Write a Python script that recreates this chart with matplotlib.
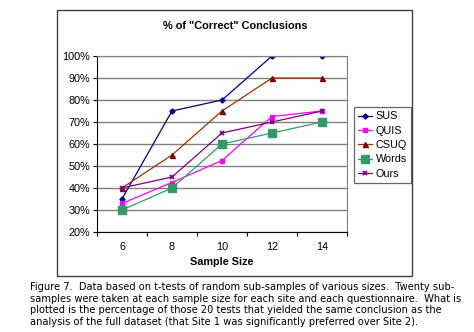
import matplotlib
matplotlib.use("Agg")
import matplotlib.pyplot as plt
from matplotlib.patches import Rectangle
from matplotlib.ticker import FixedLocator, FuncFormatter, NullFormatter

# Tamaños de muestra y porcentaje de conclusiones "correctas" por cuestionario
sample_sizes = ["6", "8", "10", "12", "14"]
sus = [0.35, 0.75, 0.80, 1.00, 1.00]
quis = [0.33, 0.425, 0.525, 0.725, 0.75]
csuq = [0.40, 0.55, 0.75, 0.90, 0.90]
words = [0.30, 0.40, 0.60, 0.65, 0.70]
ours = [0.40, 0.45, 0.65, 0.70, 0.75]

caption = ("Figure 7.  Data based on t-tests of random sub-samples of various sizes.  Twenty sub-\n"
           "samples were taken at each sample size for each site and each questionnaire.  What is\n"
           "plotted is the percentage of those 20 tests that yielded the same conclusion as the\n"
           "analysis of the full dataset (that Site 1 was significantly preferred over Site 2).")

W, H = 474, 332
fig = plt.figure(figsize=(W / 100, H / 100), dpi=100)
plt.rcParams['font.family'] = ['Liberation Sans', 'DejaVu Sans']

def fx(px):
    return px / W

def fy(py):
    return 1 - py / H

# Marco del grafico (estilo Excel)
fig.patches.append(Rectangle((fx(57), fy(276)), fx(412) - fx(57), fy(10) - fy(276),
                             transform=fig.transFigure, fill=False,
                             edgecolor="#404040", lw=1.0))

ax = fig.add_axes([fx(97), fy(232), fx(347) - fx(97), fy(56) - fy(232)])
x = list(range(len(sample_sizes)))

ax.plot(x, sus, color="#000080", marker="D", ms=2.6, lw=0.9, label="SUS")
ax.plot(x, quis, color="#FF00FF", marker="s", ms=3.0, lw=0.9, label="QUIS")
ax.plot(x, csuq, color="#993300", marker="^", ms=3.6, lw=0.9, label="CSUQ",
        markerfacecolor="#800000", markeredgecolor="#800000")
ax.plot(x, words, color="#339966", marker="s", ms=5.2, lw=0.9, label="Words")
ax.plot(x, ours, color="#800080", marker="x", ms=3.0, mew=1.3, lw=0.9, label="Ours")

ax.set_xlim(-0.5, 4.5)
ax.set_ylim(0.2, 1.0)
ax.xaxis.set_major_locator(FixedLocator([i - 0.5 for i in range(6)]))
ax.xaxis.set_major_formatter(NullFormatter())
ax.xaxis.set_minor_locator(FixedLocator(x))
ax.set_xticklabels(sample_sizes, minor=True)
ax.tick_params(axis="x", which="minor", length=0, pad=7, labelsize=7.8)
ax.tick_params(axis="x", which="major", length=3, width=0.8, color="black", direction="out")
ax.set_yticks([0.2 + 0.1 * i for i in range(9)])
ax.yaxis.set_major_formatter(FuncFormatter(lambda v, p: f"{round(v * 100)}%"))
ax.tick_params(axis="y", length=3, width=0.8, direction="out", labelsize=7.8, pad=2)

ax.grid(axis="y", color="#808080", lw=1.0)
ax.set_axisbelow(True)
for s in ["top", "right"]:
    ax.spines[s].set_color("#808080")
    ax.spines[s].set_linewidth(0.8)
for s in ["left", "bottom"]:
    ax.spines[s].set_color("black")
    ax.spines[s].set_linewidth(0.8)

leg = fig.legend(loc="upper left", bbox_to_anchor=(fx(354), fy(107)),
                 frameon=True, fancybox=False, fontsize=7.8, handlelength=1.3,
                 handletextpad=0.3, borderpad=0.4, labelspacing=0.4,
                 borderaxespad=0)
leg.get_frame().set_edgecolor("#404040")
leg.get_frame().set_linewidth(0.9)

fig.text(fx(235), fy(26), '% of "Correct" Conclusions', ha="center", va="center",
         fontsize=7.9, fontweight="bold")
fig.text(fx(222), fy(262), "Sample Size", ha="center", va="center",
         fontsize=7.8, fontweight="bold")
fig.text(fx(30), fy(282), caption, ha="left", va="top", fontsize=7.1,
         family=["DejaVu Sans"], linespacing=1.2)

fig.savefig("out.png", dpi=100)
